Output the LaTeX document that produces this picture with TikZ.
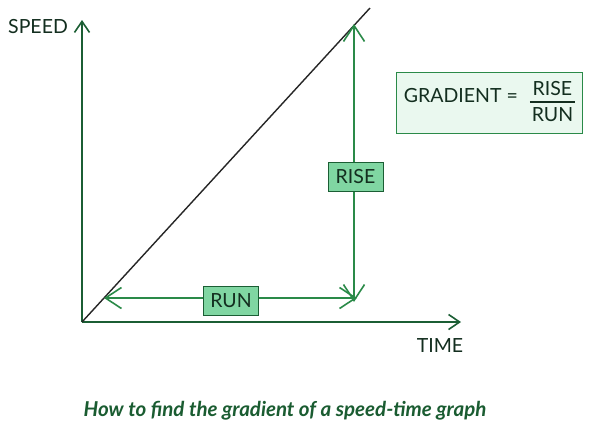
\documentclass[tikz,border=0pt]{standalone}
\usepackage{fontspec}
\setmainfont{Lato}
\usetikzlibrary{arrows.meta}
\definecolor{axisgreen}{HTML}{1B5E34}
\definecolor{arrgreen}{HTML}{2A8A48}
\definecolor{boxfill}{HTML}{80D6A2}
\definecolor{gradfill}{HTML}{EAF8EF}
\definecolor{txt}{HTML}{132E1F}
\definecolor{captiongreen}{HTML}{1A5C31}
\begin{document}
\begin{tikzpicture}[x=1pt,y=-1pt,
  axbarb/.style={-{Straight Barb[length=11pt,width=15pt,line width=1.6pt]}},
  bigbarb/.tip={Straight Barb[length=16pt,width=21pt,line width=1.6pt]},
  barbboth/.style={bigbarb-bigbarb},
  lbl/.style={font=\fontsize{19.5}{21}\selectfont, text=txt},
  tag/.style={draw=axisgreen, fill=boxfill, line width=1pt, minimum width=55pt, minimum height=29pt, inner sep=2pt, font=\fontsize{19.5}{21}\selectfont, text=txt}]
\useasboundingbox[fill=white] (0,0) rectangle (598,437);
\coordinate (O) at (82,322);
\coordinate (ytop) at (82,20);
\coordinate (xend) at (461,322);
\coordinate (lend) at (370,8);
\coordinate (risetop) at (354,24);
\coordinate (risebot) at (354,302);
\coordinate (runleft) at (104,298);
\coordinate (runright) at (357,298);
% axes
\draw[axisgreen, line width=1.6pt, axbarb] (O) -- (ytop);
\draw[axisgreen, line width=1.6pt, axbarb] (O) -- (xend);
% line
\draw[black!85, line width=1.4pt] (O) -- (lend);
% rise and run arrows
\draw[arrgreen, line width=1.6pt, barbboth] (risetop) -- (risebot);
\draw[arrgreen, line width=1.6pt, barbboth] (runleft) -- (runright);
\node[tag] (rise) at (355.5,177) {RISE};
\node[tag] (run) at (231,301) {RUN};
% labels
\node[lbl] (speed) at (38,27) {SPEED};
\node[lbl] (time) at (440,346) {TIME};
% gradient box
\node[draw=arrgreen, fill=gradfill, line width=1.3pt, minimum width=186pt, minimum height=56pt, lbl] (grad) at (489.5,103)
  {GRADIENT =\hspace{12pt}\raisebox{-0.6ex}{\arrayrulewidth=1.5pt\renewcommand{\arraystretch}{1.3}\begin{tabular}{@{\hspace{2pt}}c@{\hspace{2pt}}}RISE\\[-2pt]\hline RUN\end{tabular}}};
% caption
\node[font=\fontsize{20.5}{22}\selectfont\bfseries\itshape, text=captiongreen] (cap) at (285,411) {How to find the gradient of a speed-time graph};
\end{tikzpicture}
\end{document}
